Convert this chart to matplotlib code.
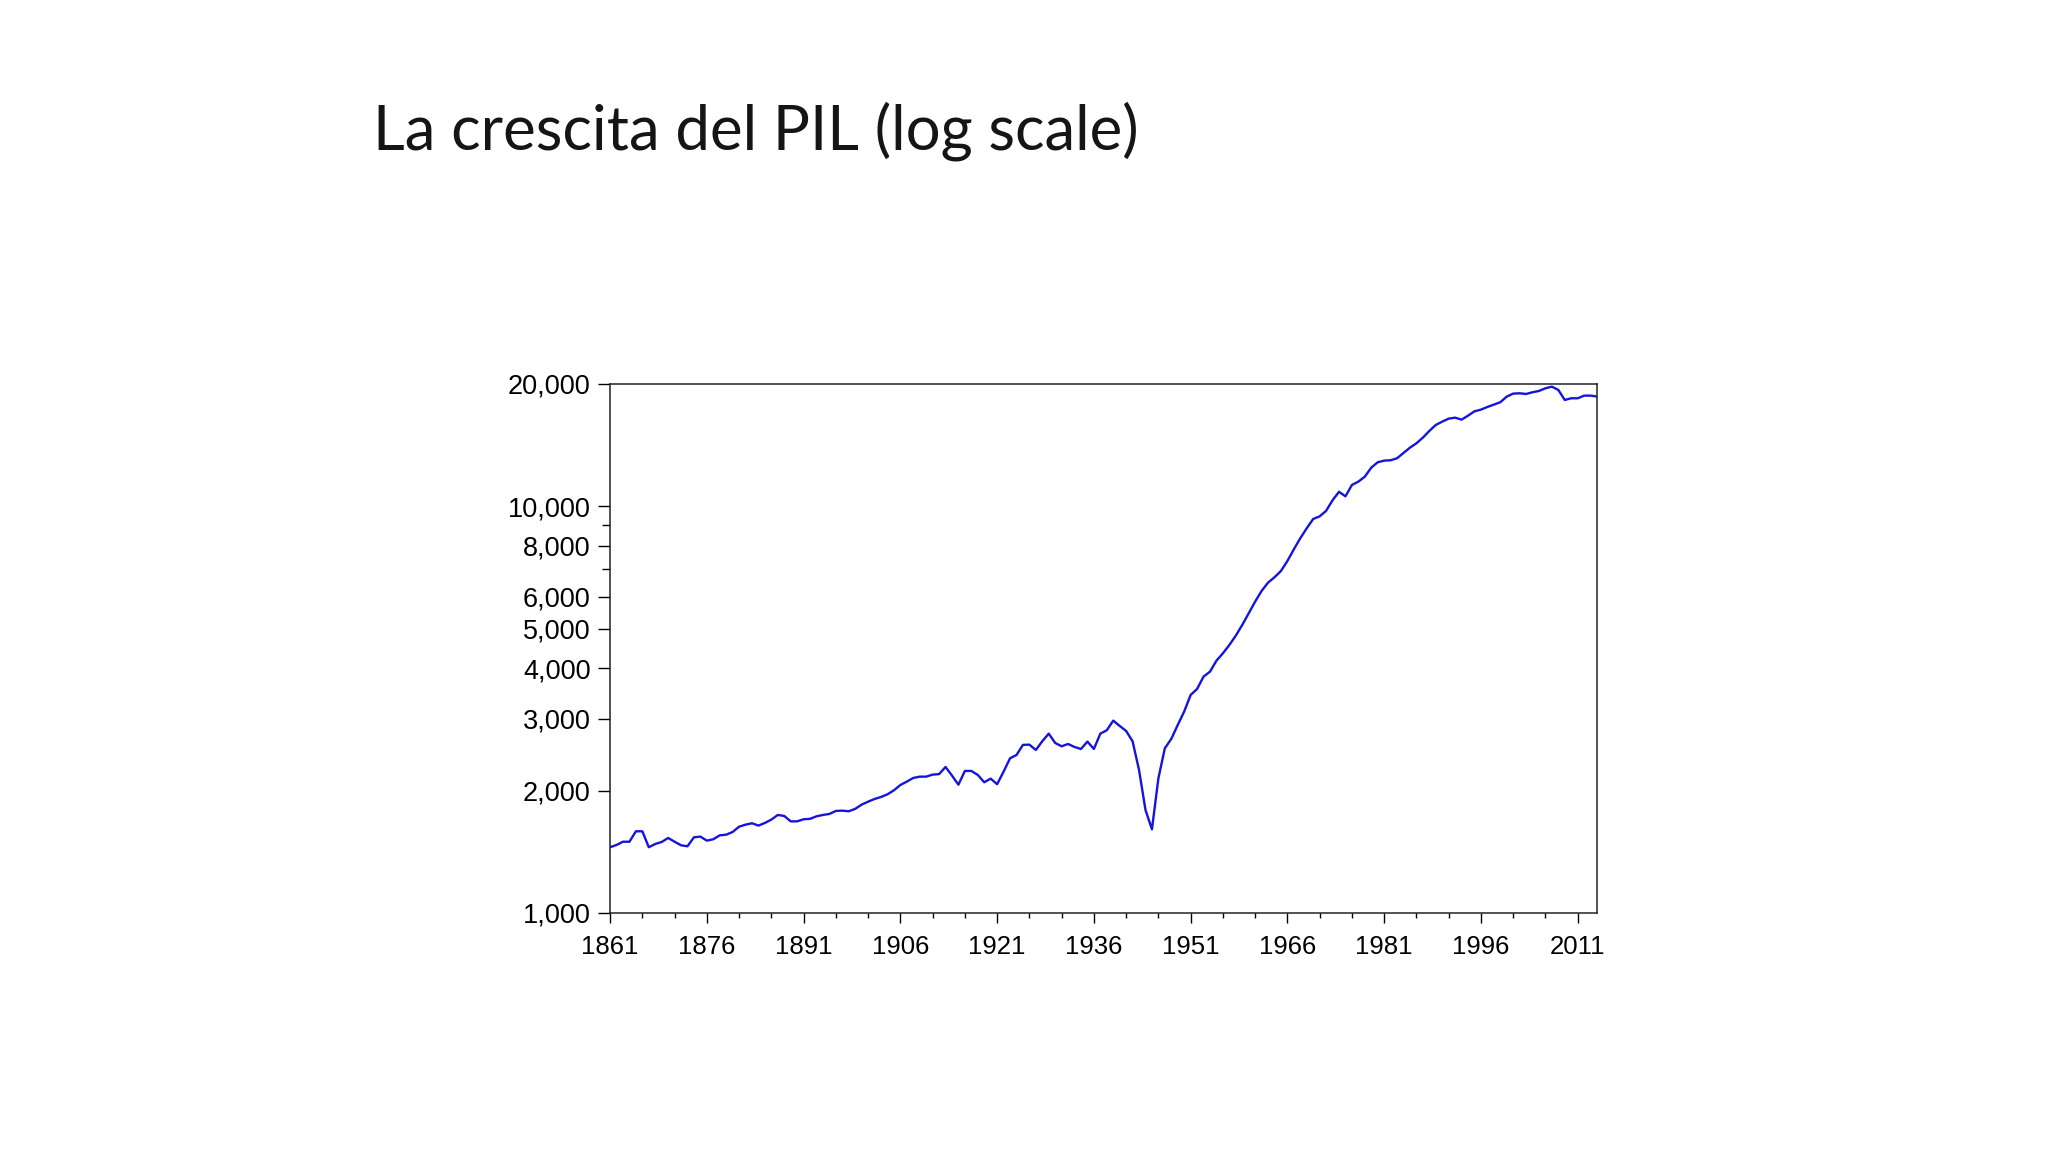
import matplotlib.pyplot as plt
from matplotlib.ticker import FixedLocator, FuncFormatter, NullFormatter

first_year = 1861
last_year = 2014

# PIL (scala logaritmica), un valore per anno 1861-2014
gdp = [
    1451, 1470, 1497, 1497, 1588, 1588, 1451, 1478, 1495,  # 1861-1869
    1529, 1497, 1467, 1459, 1535, 1541, 1506, 1518, 1552, 1558,  # 1870s
    1582, 1630, 1649, 1662, 1640, 1665, 1697, 1742, 1732, 1680,  # 1880s
    1680, 1700, 1704, 1729, 1742, 1752, 1782, 1785, 1779, 1803,  # 1890s
    1847, 1878, 1907, 1929, 1958, 2003, 2064, 2104, 2148, 2164,  # 1900s
    2164, 2189, 2195, 2286, 2177, 2068, 2235, 2235, 2185, 2096,  # 1910s
    2140, 2073, 2226, 2401, 2446, 2590, 2594, 2517, 2644, 2761,  # 1920s
    2619, 2570, 2604, 2560, 2531, 2639, 2531, 2761, 2814, 2972,  # 1930s
    2884, 2803, 2644, 2247, 1792, 1606, 2144, 2541, 2680, 2900,  # 1940s
    3130, 3437, 3556, 3813, 3922, 4173, 4351, 4561, 4809, 5109,  # 1950s
    5458, 5831, 6194, 6493, 6694, 6936, 7340, 7842, 8350, 8835,  # 1960s
    9311, 9450, 9750, 10350, 10860, 10585, 11288, 11503, 11831, 12453,  # 1970s
    12836, 12957, 12982, 13131, 13531, 13945, 14293, 14758, 15325, 15856,  # 1980s
    16158, 16433, 16526, 16340, 16713, 17131, 17293, 17557, 17789, 18030,  # 1990s
    18616, 18936, 18972, 18898, 19081, 19223, 19517, 19697, 19335, 18268,  # 2000s
    18443, 18443, 18721, 18721, 18630,  # 2010-2014
]
years = list(range(first_year, last_year + 1))

x_major = list(range(1861, 2015, 15))
x_minor = list(range(1861, 2015, 5))
y_major = [1000, 2000, 3000, 4000, 5000, 6000, 8000, 10000, 20000]
y_minor = [7000, 9000]

title = "La crescita del PIL (log scale)"


def thousands(value, pos):
    return f"{int(round(value)):,}"


fig = plt.figure(figsize=(20.48, 11.52), dpi=100)
fig.patch.set_facecolor("white")

fig.text(
    0.182, 0.8698, title,
    fontsize=44.5, family="Lato", fontweight="normal",
    color="#151515", ha="left", va="baseline",
)

ax = fig.add_axes([0.2979, 0.2075, 0.4819, 0.4592])
ax.plot(years, gdp, color="#1414dc", linewidth=1.7)

ax.set_yscale("log")
ax.set_xlim(first_year, last_year)
ax.set_ylim(1000, 20000)

ax.yaxis.set_major_locator(FixedLocator(y_major))
ax.yaxis.set_major_formatter(FuncFormatter(thousands))
ax.yaxis.set_minor_locator(FixedLocator(y_minor))
ax.yaxis.set_minor_formatter(NullFormatter())

ax.xaxis.set_major_locator(FixedLocator(x_major))
ax.xaxis.set_minor_locator(FixedLocator(x_minor))

for spine in ax.spines.values():
    spine.set_linewidth(1.1)
    spine.set_color("#222222")

ax.tick_params(axis="y", which="major", direction="out", length=9,
               width=1.0, pad=5, labelsize=19.5)
ax.tick_params(axis="y", which="minor", direction="out", length=6, width=1.0)
ax.tick_params(axis="x", which="major", direction="out", length=7,
               width=1.0, pad=9, labelsize=18.5)
ax.tick_params(axis="x", which="minor", direction="out", length=3.6, width=1.0)

for label in ax.get_xticklabels() + ax.get_yticklabels():
    label.set_fontfamily("Liberation Sans")

fig.savefig("out.png", dpi=100, facecolor="white")
